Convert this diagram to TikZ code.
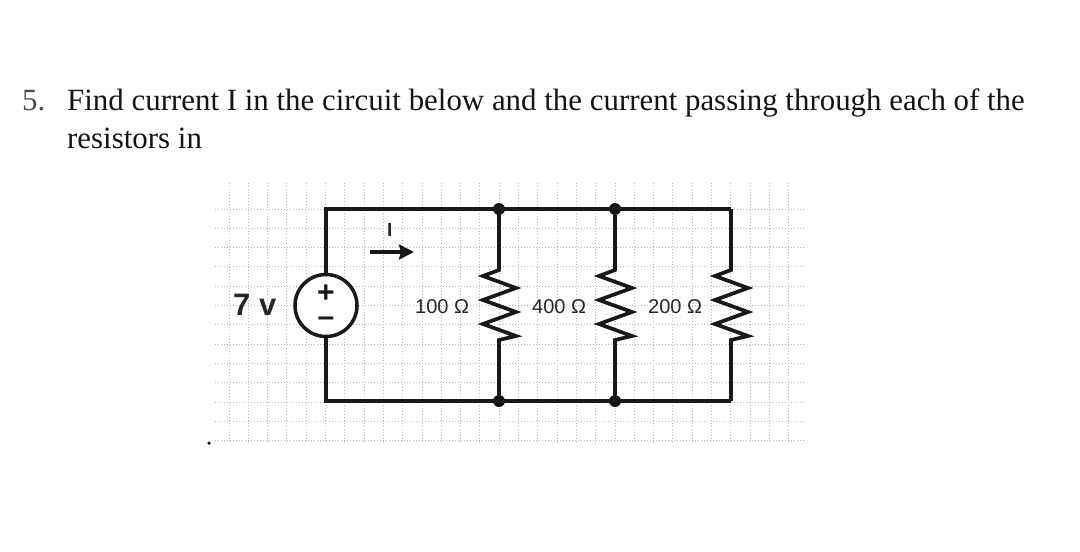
\documentclass[tikz,border=0pt]{standalone}
\usepackage{fontspec}
\setmainfont{Liberation Serif}
\setsansfont{Liberation Sans}
\usetikzlibrary{arrows,arrows.meta,shapes,positioning,calc}
\tikzset{
  wire/.style={line width=3.7pt, black!90, line join=miter},
  gridLine/.style={line width=1pt, black!28, dotted},
  junction/.style={circle, fill=black!92, inner sep=0pt, minimum size=12pt},
  source/.style={circle, draw=black!90, line width=3.5pt, fill=none, minimum size=62pt, inner sep=0pt},
  lineText/.style={anchor=base west, inner sep=0pt, font=\fontsize{30.9}{32}\selectfont, text=black!92},
  valueText/.style={anchor=base west, inner sep=0pt, font=\sffamily\fontsize{20}{22}\selectfont, text=black!85},
  signText/.style={inner sep=0pt, align=center, font=\sffamily\bfseries\fontsize{30}{24}\selectfont, text=black!90},
}
\begin{document}
\begin{tikzpicture} [x=1pt, y=-1pt, >=stealth]

\useasboundingbox (0,0) rectangle (1080,552);

% background grid
\foreach \x in {0,...,29}
  \draw [gridLine] (229+\x*19.3,183) -- (229+\x*19.3,442);
\foreach \y in {0,...,12}
  \draw [gridLine] (215,209+\y*19.3) -- (805,209+\y*19.3);

% question text
\node [lineText, text=black!70] (number) at (22,110) {5.};
\node [lineText] (lineOne) at (67,110) {Find current I in the circuit below and the current passing through each of the};
\node [lineText] (lineTwo) at (67,148) {resistors in};

\coordinate (top-0) at (326,209);
\coordinate (bot-0) at (326,401);
\coordinate (top-3) at (731,209);
\coordinate (bot-3) at (731,401);

\foreach \i/\x in {1/499,2/615}{
  \node [junction] (top-\i) at (\x,209) {};
  \node [junction] (bot-\i) at (\x,401) {};
}

\draw [wire] (top-3) -- (top-0) -- (bot-0) -- (bot-3);

% resistors
\foreach \i/\x in {1/499,2/615,3/731}{
  \coordinate (resTop-\i) at (\x,270);
  \coordinate (resBot-\i) at (\x,340);
  \draw [wire] (top-\i) -- (resTop-\i) -- ++(-16,6) -- ++(33,12) -- ++(-33,12)
    -- ++(33,12) -- ++(-33,12) -- ++(33,12) -- (resBot-\i) -- (bot-\i);
}

% source
\node [source, fill=white] (source) at (326,305.5) {};
\node [signText] (signs) at (326,305.5) {+\\\char"2013};

\node [anchor=base west, inner sep=0pt, font=\sffamily\bfseries\fontsize{31}{31}\selectfont, text=black!85] (voltage) at (233,315) {7 v};

% current arrow
\coordinate (arrowStart) at (370,252);
\coordinate (arrowEnd) at (414,252);
\draw [-{Stealth[length=15pt,width=15pt,inset=2pt]}, line width=3.4pt, black!90] (arrowStart) -- (arrowEnd);
\node [valueText, font=\sffamily\bfseries\fontsize{19}{20}\selectfont] (current) at (387,236) {I};

% resistor labels
\foreach \l/\x [count=\i] in {100/415,400/532,200/648}
  \node [valueText] (value-\i) at (\x,313) {\l~\char"03A9};

% stray dot
\node [circle, fill=black, inner sep=0pt, minimum size=3.5pt] (dot) at (209,443) {};

\end{tikzpicture}
\end{document}
